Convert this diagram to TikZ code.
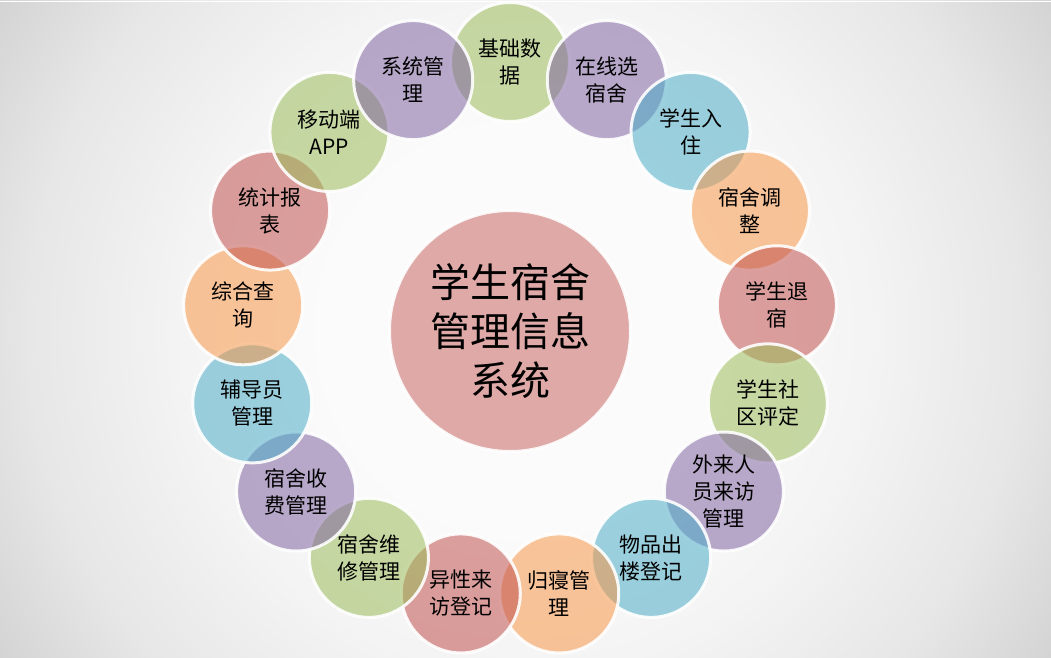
\documentclass[tikz,border=0pt]{standalone}
\usepackage{fontspec}
\setmainfont{Noto Sans CJK SC}
\definecolor{cgreen}{RGB}{155,187,89}
\definecolor{cpurple}{RGB}{128,100,162}
\definecolor{cblue}{RGB}{75,172,198}
\definecolor{corange}{RGB}{247,150,70}
\definecolor{cred}{RGB}{192,80,77}
\definecolor{bgA}{gray}{0.985}
\definecolor{bgB}{gray}{0.955}
\definecolor{bgC}{gray}{0.905}
\definecolor{bgD}{gray}{0.83}
\pgfdeclareradialshading{bgshade}{\pgfpoint{0bp}{0bp}}{color(0bp)=(bgA); color(8bp)=(bgA); color(14bp)=(bgB); color(20bp)=(bgC); color(25bp)=(bgD); color(50bp)=(bgD)}
\tikzset{
  bub/.style={circle, minimum size=119pt, inner sep=0pt, draw=white, line width=3pt,
    draw opacity=0.9, fill opacity=0.54, text opacity=1, align=center, text=black,
    font=\fontsize{21}{27}\selectfont},
  hubnode/.style={circle, minimum size=241pt, inner sep=0pt, draw=white, line width=3pt,
    draw opacity=0.9, fill=cred, fill opacity=0.48, text opacity=1, align=center, text=black,
    font=\fontsize{40}{49}\selectfont}
}
\begin{document}
\begin{tikzpicture}[x=1pt,y=-1pt]
\useasboundingbox (0,0) rectangle (1051,657);
\begin{scope}
\clip (0,0) rectangle (1051,657);
\shade[shading=bgshade] (-95,-290) rectangle (1145,950);
\end{scope}
\draw[white, line width=1.5pt] (0,1.5) -- (1051,1.5);
\node[hubnode] (hub) at (510,331) {学生宿舍\\管理信息\\系统};
\foreach \i/\txt/\col in {
  0/{基础数\\据}/cgreen,
  1/{在线选\\宿舍}/cpurple,
  2/{学生入\\住}/cblue,
  3/{宿舍调\\整}/corange,
  4/{学生退\\宿}/cred,
  5/{学生社\\区评定}/cgreen,
  6/{外来人\\员来访\\管理}/cpurple,
  7/{物品出\\楼登记}/cblue,
  8/{归寝管\\理}/corange,
  9/{异性来\\访登记}/cred,
  10/{宿舍维\\修管理}/cgreen,
  11/{宿舍收\\费管理}/cpurple,
  12/{辅导员\\管理}/cblue,
  13/{综合查\\询}/corange,
  14/{统计报\\表}/cred,
  15/{移动端\\APP}/cgreen,
  16/{系统管\\理}/cpurple}
{
  \pgfmathsetmacro\ang{90-\i*360/17}
  \node[bub, fill=\col] (c\i) at ({510+268*cos(\ang)},{330-268*sin(\ang)}) {\txt};
}
\end{tikzpicture}
\end{document}
